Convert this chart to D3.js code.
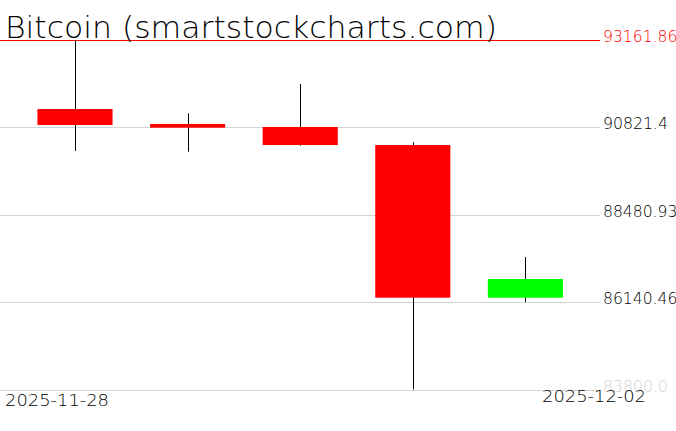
<!DOCTYPE html>
<html><head><meta charset="utf-8">
<script src="https://cdn.jsdelivr.net/npm/d3@7"></script>
<style>html,body{margin:0;padding:0;background:#fff;overflow:hidden}</style>
</head><body>
<svg id="c" width="676" height="431"></svg>
<script>
const dates = ["2025-11-28","2025-11-29","2025-11-30","2025-12-01","2025-12-02"];
const opens = [91313, 90912, 90831, 90349, 86259];
const highs = [93161.86, 91198, 91983, 90421, 87349];
const lows = [90188, 90170, 90330, 83800, 86140];
const closes = [90885, 90813, 90349, 86259, 86760];
const yTicks = [83800.0, 86140.46, 88480.93, 90821.4, 93161.86];
const yTickLabels = ["83800.0","86140.46","88480.93","90821.4","93161.86"];
const title = "Bitcoin (smartstockcharts.com)";

const svg = d3.select("#c");
const y = d3.scaleLinear().domain([83800, 93161.86]).range([389.5, 40]);
const x = d3.scalePoint().domain(dates).range([18.7, 581.7]).padding(0.5);
const bw = x.step() * 0.667;
const FONT = "DejaVu Sans";

// grid lines
yTicks.forEach((t, i) => {
  const yy = Math.round(y(t)) + 0.5;
  svg.append("line").attr("x1", 0).attr("x2", 600).attr("y1", yy).attr("y2", yy)
    .attr("stroke", i === yTicks.length - 1 ? "#ff0000" : "#d3d3d3").attr("stroke-width", 1);
  const lbl = yTickLabels[i];
  svg.append("text").attr("x", 603).attr("y", yy + 1)
    .attr("font-family", FONT).attr("font-weight", 200).attr("font-size", 16)
    .attr("textLength", lbl.length * 9.3).attr("lengthAdjust", "spacingAndGlyphs")
    .attr("fill", i === yTicks.length - 1 ? "#ff0000" : (i === 0 ? "#d3d3d3" : "#000"))
    .text(lbl);
});

const data = dates.map((d, i) => ({d, o: opens[i], h: highs[i], l: lows[i], c: closes[i]}));
const g = svg.append("g");
data.forEach(k => {
  const cx = Math.round(x(k.d)) + 0.5;
  g.append("line").attr("x1", cx).attr("x2", cx).attr("y1", y(k.h)).attr("y2", y(k.l))
    .attr("stroke", "#000").attr("stroke-width", 1);
  const top = y(Math.max(k.o, k.c)), bot = y(Math.min(k.o, k.c));
  g.append("rect").attr("x", x(k.d) - bw / 2).attr("width", bw)
    .attr("y", top).attr("height", Math.max(1, bot - top))
    .attr("fill", k.c >= k.o ? "#00ff00" : "#ff0000");
});

// date labels
function dateLabel(txt, xx, yy) {
  svg.append("text").attr("x", xx).attr("y", yy)
    .attr("font-family", FONT).attr("font-weight", 200).attr("font-size", 15.5)
    .attr("textLength", 104).attr("lengthAdjust", "spacingAndGlyphs")
    .attr("fill", "#000").text(txt);
}
dateLabel(dates[0], 5, 406);
dateLabel(dates[dates.length - 1], 542, 402);

// title
svg.append("text").attr("x", 5).attr("y", 38)
  .attr("font-family", FONT).attr("font-weight", 200).attr("font-size", 30)
  .attr("textLength", 492).attr("lengthAdjust", "spacingAndGlyphs")
  .attr("fill", "#000").text(title);
</script>
</body></html>
